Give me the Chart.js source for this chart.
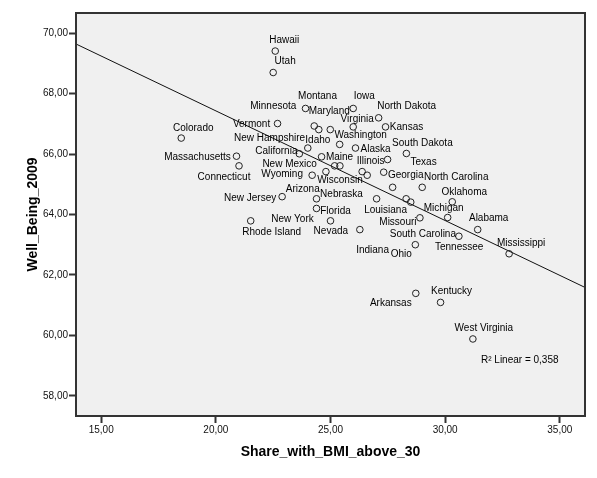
<!DOCTYPE html>
<html>
<head>
<meta charset="utf-8">
<script src="https://cdn.jsdelivr.net/npm/chart.js@4.4.1/dist/chart.umd.min.js"></script>
<style>
  html, body { margin: 0; padding: 0; background: #fff; }
  canvas { display: block; }
</style>
</head>
<body>
<canvas id="chart" width="597" height="478"></canvas>
<script>
// point labels ('' = point shown without a label)
const stateLabels = [
  'Hawaii', 'Utah', 'Montana', 'Minnesota', 'Iowa', 'North Dakota', 'Vermont', 'Maryland',
  '', '', 'Virginia', 'Kansas', 'Colorado', 'Idaho', 'New Hampshire', 'Washington',
  'Alaska', 'South Dakota', 'Texas', 'Massachusetts', 'California', 'Maine', 'Illinois',
  'Connecticut', 'New Mexico', '', 'Wyoming', 'Wisconsin', '', '', 'Georgia', '',
  'North Carolina', 'New Jersey', 'Nebraska', 'Arizona', 'Louisiana', '', '', 'Oklahoma',
  'Florida', 'Missouri', 'Michigan', 'Rhode Island', 'New York', 'Alabama', 'Nevada',
  'South Carolina', 'Tennessee', 'Ohio', 'Indiana', 'Mississippi', 'Arkansas', 'Kentucky',
  'West Virginia'
];
const bmiShare = [
  22.59, 22.50, 23.91, 23.90, 25.99, 27.10, 22.69, 24.29,
  24.49, 24.99, 25.99, 27.40, 18.49, 24.01, 24.00, 25.40,
  26.09, 28.31, 28.32, 20.90, 23.64, 24.61, 27.49,
  21.01, 25.18, 25.41, 24.20, 24.80, 26.38, 26.60, 27.32, 27.71,
  29.00, 22.89, 24.39, 24.40, 27.01, 28.30, 28.50, 30.31,
  24.39, 28.90, 30.11, 21.52, 25.00, 31.42, 26.28,
  30.60, 30.61, 28.70, 28.71, 32.79, 28.72, 29.80,
  31.21
];
const wellBeing = [
  69.41, 68.70, 67.51, 67.50, 67.51, 67.20, 67.01, 66.93,
  66.81, 66.81, 66.90, 66.90, 66.53, 66.20, 66.19, 66.32,
  66.20, 66.02, 66.01, 65.93, 66.01, 65.91, 65.82,
  65.61, 65.61, 65.61, 65.30, 65.42, 65.42, 65.30, 65.40, 64.90,
  64.90, 64.59, 64.52, 64.51, 64.52, 64.52, 64.41, 64.42,
  64.20, 63.89, 63.90, 63.79, 63.79, 63.50, 63.50,
  63.28, 63.27, 63.00, 62.99, 62.70, 61.39, 61.09,
  59.88
];
const xTickValues = [15, 20, 25, 30, 35];
const yTickValues = [58, 60, 62, 64, 66, 68, 70];
const fitIntercept = 74.69;
const fitSlope = -0.363;
const rSquared = 0.358;

// label placement relative to its point, in pixels
const labelOffsets = [
  [9, -11], [12, -11], [12, -12], [-32, -3], [11, -12], [28, -12], [-26, 1], [15, -15],
  [0, 0], [0, 0], [4, -8], [21, 0], [12, -10], [10, -8], [-38, -10], [21, -9],
  [20, 1], [16, -10], [17, 8], [-39, 1], [-23, -3], [18, 0], [-17, 2],
  [-15, 11], [-45, -2], [0, 0], [-30, -1], [14, 9], [0, 0], [0, 0], [22, 3], [0, 0],
  [34, -10], [-32, 2], [25, -5], [-14, -10], [9, 11], [0, 0], [0, 0], [12, -10],
  [19, 3], [-22, 4], [-4, -9], [21, 11], [-38, -2], [11, -11], [-29, 2],
  [-36, -2], [0, 11], [-14, 10], [-43, 5], [12, -11], [-25, 10], [11, -11],
  [11, -11]
];

const X_MIN = 13.9, X_MAX = 36.1, Y_MIN = 57.33, Y_MAX = 70.67;
const FONT = 'Arial, "Liberation Sans", sans-serif';
const fmt = v => Number(v).toFixed(2).replace('.', ',');

const points = bmiShare.map((x, i) => ({ x, y: wellBeing[i] }));
const fitLine = [X_MIN, X_MAX].map(x => ({ x, y: fitIntercept + fitSlope * x }));

// a circle sitting exactly on an earlier one is not stroked twice
const borderWidths = points.map((p, i) =>
  points.slice(0, i).some(q => Math.abs(q.x - p.x) < 0.03 && Math.abs(q.y - p.y) < 0.03) ? 0 : 1);

const plotFrame = {
  id: 'plotFrame',
  beforeDraw(chart) {
    const { ctx, chartArea: a } = chart;
    ctx.save();
    ctx.fillStyle = '#f0f0f0';
    ctx.fillRect(a.left, a.top, a.right - a.left, a.bottom - a.top);
    ctx.restore();
  },
  afterDatasetsDraw(chart) {
    const { ctx, chartArea: a, scales } = chart;
    ctx.save();
    ctx.fillStyle = '#000';
    ctx.font = '10px ' + FONT;
    ctx.textAlign = 'center';
    ctx.textBaseline = 'middle';
    stateLabels.forEach((name, i) => {
      if (!name) return;
      const px = scales.x.getPixelForValue(bmiShare[i]) + labelOffsets[i][0];
      const py = scales.y.getPixelForValue(wellBeing[i]) + labelOffsets[i][1];
      ctx.fillText(name, px, py);
    });
    ctx.textAlign = 'left';
    ctx.fillText('R\u00b2 Linear = ' + rSquared.toFixed(3).replace('.', ','), a.right - 104, a.bottom - 56);
    ctx.strokeStyle = '#333';
    ctx.lineWidth = 2;
    ctx.strokeRect(a.left, a.top, a.right - a.left, a.bottom - a.top);
    ctx.restore();
  }
};

new Chart(document.getElementById('chart'), {
  type: 'scatter',
  data: {
    datasets: [
      {
        data: points,
        pointRadius: 3.3,
        pointBorderWidth: borderWidths,
        pointBorderColor: '#222',
        pointBackgroundColor: 'rgba(0,0,0,0)'
      },
      {
        data: fitLine,
        showLine: true,
        pointRadius: 0,
        borderColor: '#111',
        borderWidth: 1
      }
    ]
  },
  options: {
    responsive: false,
    devicePixelRatio: 1,
    animation: false,
    events: [],
    layout: { padding: { top: 13, right: 12, bottom: 0, left: 0 } },
    plugins: { legend: { display: false }, tooltip: { enabled: false } },
    scales: {
      x: {
        type: 'linear',
        min: X_MIN, max: X_MAX,
        afterBuildTicks: s => { s.ticks = xTickValues.map(v => ({ value: v })); },
        afterFit: s => { s.height = 62; },
        border: { display: false },
        grid: { drawOnChartArea: false, tickLength: 7, tickWidth: 2, tickColor: '#333' },
        ticks: { font: { size: 10, family: FONT }, color: '#111', padding: 1, maxRotation: 0, callback: v => fmt(v) },
        title: { display: true, text: 'Share_with_BMI_above_30', color: '#000',
                 font: { size: 14, weight: 'bold', family: FONT }, padding: { top: 0, bottom: 17.6 } }
      },
      y: {
        type: 'linear',
        min: Y_MIN, max: Y_MAX,
        afterBuildTicks: s => { s.ticks = yTickValues.map(v => ({ value: v })); },
        afterFit: s => { s.width = 76; },
        border: { display: false },
        grid: { drawOnChartArea: false, tickLength: 7, tickWidth: 2, tickColor: '#333' },
        ticks: { font: { size: 10, family: FONT }, color: '#111', padding: 1, callback: v => fmt(v) },
        title: { display: true, text: 'Well_Being_2009', color: '#000',
                 font: { size: 14, weight: 'bold', family: FONT }, padding: { top: 25, bottom: 0 } }
      }
    }
  },
  plugins: [plotFrame]
});
</script>
</body>
</html>
